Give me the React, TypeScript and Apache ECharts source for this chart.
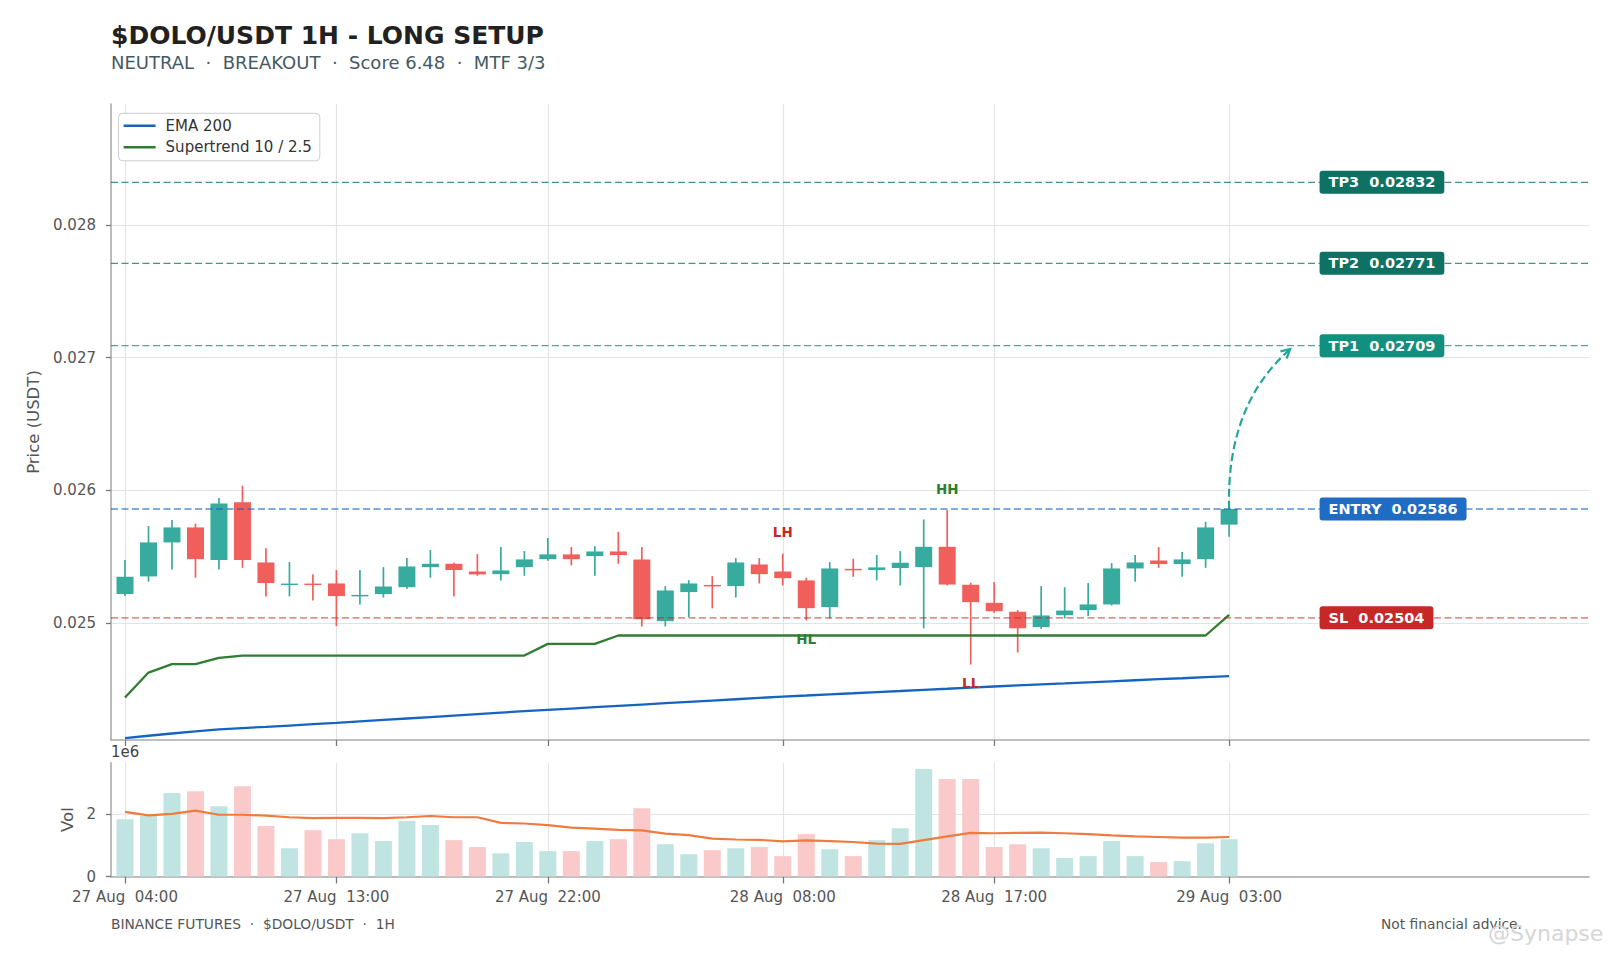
import React, { useEffect, useRef } from "react";
import * as echarts from "echarts";

// ---------- data ----------
const OPEN = [
  0.025219, 0.025352, 0.025608, 0.025721, 0.025475, 0.02591, 0.025457, 0.025294, 0.025298, 0.025299,
  0.025209, 0.025219, 0.025271, 0.025422, 0.025447, 0.025389, 0.025369, 0.025422, 0.025482, 0.025518,
  0.025505, 0.02554, 0.02548, 0.025015, 0.025234, 0.025288, 0.025279, 0.025442, 0.025389, 0.025322,
  0.025121, 0.025409, 0.0254, 0.025415, 0.025422, 0.025575, 0.025289, 0.025153, 0.025085, 0.02497,
  0.02506, 0.025098, 0.025141, 0.025412, 0.025472, 0.025445, 0.025482, 0.025742,
];
const CLOSE = [
  0.025349, 0.025608, 0.025721, 0.025482, 0.025902, 0.025475, 0.025302, 0.025298, 0.025294, 0.025204,
  0.025213, 0.025276, 0.025427, 0.025447, 0.0254, 0.025367, 0.025397, 0.02548, 0.025518, 0.025482,
  0.02554, 0.025513, 0.02503, 0.025246, 0.025299, 0.025284, 0.025457, 0.025369, 0.025339, 0.025113,
  0.025412, 0.025405, 0.02542, 0.025455, 0.025575, 0.025291, 0.025158, 0.02509, 0.024962, 0.025058,
  0.025095, 0.025141, 0.025412, 0.025457, 0.025445, 0.02548, 0.025721, 0.02586,
];
const LOW = [
  0.025204, 0.025312, 0.025405, 0.025342, 0.025405, 0.025417, 0.025201, 0.025201, 0.025171, 0.024977,
  0.025141, 0.025193, 0.025259, 0.025342, 0.025201, 0.025357, 0.025322, 0.025357, 0.02547, 0.025435,
  0.025357, 0.025447, 0.024975, 0.024975, 0.025045, 0.025111, 0.025193, 0.025299, 0.025284, 0.02502,
  0.025035, 0.025349, 0.025322, 0.025284, 0.02496, 0.025284, 0.024688, 0.025078, 0.024779, 0.024957,
  0.025035, 0.025053, 0.025133, 0.025312, 0.025417, 0.025349, 0.025417, 0.02565,
];
const HIGH = [
  0.025475, 0.025731, 0.025776, 0.025749, 0.025942, 0.026035, 0.025565, 0.02546, 0.025369, 0.0254,
  0.0254, 0.025422, 0.02549, 0.02555, 0.025455, 0.02552, 0.025573, 0.025543, 0.025641, 0.025573,
  0.02558, 0.025688, 0.025573, 0.025279, 0.025324, 0.025354, 0.02549, 0.02549, 0.025523, 0.025342,
  0.02546, 0.025485, 0.025513, 0.025543, 0.025781, 0.025852, 0.025304, 0.025309, 0.025098, 0.025279,
  0.025271, 0.025302, 0.025452, 0.025513, 0.025573, 0.025535, 0.025764, 0.02586,
];
const VOLUME_M = [
  1.83, 1.93, 2.66, 2.72, 2.24, 2.88, 1.61, 0.9, 1.48, 1.19,
  1.38, 1.13, 1.77, 1.64, 1.16, 0.94, 0.74, 1.1, 0.81, 0.81,
  1.13, 1.19, 2.18, 1.03, 0.71, 0.84, 0.9, 0.94, 0.65, 1.35,
  0.87, 0.65, 1.16, 1.54, 3.43, 3.11, 3.11, 0.94, 1.03, 0.9,
  0.59, 0.65, 1.13, 0.65, 0.46, 0.49, 1.06, 1.19,
];
const VOLUME_MA_M = [
  2.06, 1.95, 2.0, 2.1, 1.97, 1.97, 1.94, 1.89, 1.86, 1.87,
  1.87, 1.86, 1.89, 1.93, 1.89, 1.89, 1.71, 1.69, 1.64, 1.56,
  1.53, 1.49, 1.47, 1.37, 1.32, 1.21, 1.18, 1.17, 1.12, 1.15,
  1.13, 1.1, 1.05, 1.04, 1.16, 1.28, 1.39, 1.38, 1.39, 1.4,
  1.38, 1.35, 1.31, 1.28, 1.26, 1.24, 1.24, 1.26,
];
const EMA200 = [
  0.024134, 0.024152, 0.024169, 0.024185, 0.0242, 0.02421, 0.024219, 0.024229, 0.024239, 0.024249,
  0.02426, 0.024271, 0.024282, 0.024293, 0.024304, 0.024315, 0.024326, 0.024337, 0.024347, 0.024357,
  0.024367, 0.024377, 0.024387, 0.024397, 0.024407, 0.024417, 0.024427, 0.024437, 0.024447, 0.024455,
  0.024464, 0.024472, 0.024481, 0.024489, 0.024498, 0.024506, 0.024515, 0.024523, 0.024531, 0.024539,
  0.024546, 0.024554, 0.024562, 0.02457, 0.024578, 0.024585, 0.024593, 0.024601,
];
const SUPERTREND = [
  0.02444, 0.024628, 0.024691, 0.024691, 0.024739, 0.024756, 0.024756, 0.024756, 0.024756, 0.024756,
  0.024756, 0.024756, 0.024756, 0.024756, 0.024756, 0.024756, 0.024756, 0.024756, 0.024844, 0.024844,
  0.024844, 0.024907, 0.024907, 0.024907, 0.024907, 0.024907, 0.024907, 0.024907, 0.024907, 0.024907,
  0.024907, 0.024907, 0.024907, 0.024907, 0.024907, 0.024907, 0.024907, 0.024907, 0.024907, 0.024907,
  0.024907, 0.024907, 0.024907, 0.024907, 0.024907, 0.024907, 0.024907, 0.025063,
];
const X_TICK_INDEX = [0, 9, 18, 28, 37, 47];
const X_TICK_LABELS = ["27 Aug  04:00", "27 Aug  13:00", "27 Aug  22:00", "28 Aug  08:00", "28 Aug  17:00", "29 Aug  03:00"];
const Y_TICKS = [0.025, 0.026, 0.027, 0.028];
const VOL_TICKS = [0, 2e6];

const LEVEL_NAMES = ["TP3", "TP2", "TP1", "ENTRY", "SL"];
const LEVEL_VALUES = [0.02832, 0.02771, 0.02709, 0.02586, 0.02504];

const MARKER_INDEX = [28, 35, 29, 36];
const MARKER_TEXT = ["LH", "HH", "HL", "LL"];
const MARKER_ABOVE = [true, true, false, false];

// ---------- styles ----------
const FONT = '"DejaVu Sans", sans-serif';
const UP = "#38ab9f";
const DOWN = "#f05f5b";
const UP_VOL = "#bfe4e1";
const DOWN_VOL = "#facaca";
const LEVEL_LINE = ["#00695c", "#00695c", "#00897b", "#1565c0", "#c62828"];
const LEVEL_BG = ["#0d7163", "#0d7163", "#11907f", "#1f6cc4", "#c62828"];
const X_MIN = -0.596;
const X_MAX = 62.32;
const LABEL_X = 50.83;
const ARROW_TO_X = 49.6;
const GRID_COLOR = "#e3e3e3";
const SPINE = "#aaaaaa";

export default function App() {
  const ref = useRef<HTMLDivElement>(null);

  useEffect(() => {
    if (!ref.current) return;
    const chart = echarts.init(ref.current, null, { renderer: "svg" });

    const candleData = OPEN.map((o, i) => [i, o, CLOSE[i], LOW[i], HIGH[i]]);
    const entry = LEVEL_VALUES[LEVEL_NAMES.indexOf("ENTRY")];
    const tp1 = LEVEL_VALUES[LEVEL_NAMES.indexOf("TP1")];

    const option: any = {
      animation: false,
      backgroundColor: "#ffffff",
      textStyle: { fontFamily: FONT },
      grid: [
        { left: 111, top: 104, width: 1478, height: 636, outerBoundsMode: "none" },
        { left: 111, top: 762.7, width: 1478, height: 113.8, outerBoundsMode: "none" },
      ],
      legend: {
        left: 118.6,
        top: 113.3,
        orient: "vertical",
        icon: "rect",
        itemWidth: 32,
        itemHeight: 2.5,
        itemGap: 6.5,
        padding: [5, 8, 6, 5],
        backgroundColor: "#ffffff",
        borderColor: "#cccccc",
        borderWidth: 1,
        borderRadius: 4,
        textStyle: { fontFamily: FONT, fontSize: 15, color: "#333333", lineHeight: 15, padding: [0, 0, 0, 5] },
        data: ["EMA 200", "Supertrend 10 / 2.5"],
      },
      xAxis: [
        {
          type: "value",
          gridIndex: 0,
          min: X_MIN,
          max: X_MAX,
          axisLine: { show: true, onZero: false, lineStyle: { color: SPINE, width: 1.6 } },
          axisTick: { show: true, length: 6, customValues: X_TICK_INDEX, lineStyle: { color: "#777", width: 1.3 } },
          axisLabel: { show: false, customValues: X_TICK_INDEX },
          splitLine: { show: true, lineStyle: { color: GRID_COLOR, width: 1.2 } },
        },
        {
          type: "value",
          gridIndex: 1,
          min: X_MIN,
          max: X_MAX,
          axisLine: { show: true, onZero: false, lineStyle: { color: SPINE, width: 1.6 } },
          axisTick: { show: true, length: 7, customValues: X_TICK_INDEX, lineStyle: { color: "#777", width: 1.3 } },
          axisLabel: {
            show: true,
            customValues: X_TICK_INDEX,
            margin: 13,
            fontFamily: FONT,
            fontSize: 15,
            color: "#555555",
            formatter: (v: number) => {
              const k = X_TICK_INDEX.indexOf(Math.round(v));
              return k >= 0 ? X_TICK_LABELS[k] : "";
            },
          },
          splitLine: { show: true, lineStyle: { color: GRID_COLOR, width: 1.2 } },
        },
      ],
      yAxis: [
        {
          type: "value",
          gridIndex: 0,
          min: 0.02412,
          max: 0.02891,
          name: "Price (USDT)",
          nameLocation: "middle",
          nameGap: 69,
          nameTextStyle: { fontFamily: FONT, fontSize: 16.5, color: "#555555" },
          axisLine: { show: true, onZero: false, lineStyle: { color: SPINE, width: 1.6 } },
          axisTick: { show: true, length: 5, customValues: Y_TICKS, lineStyle: { color: "#777", width: 1.3 } },
          axisLabel: {
            customValues: Y_TICKS,
            margin: 15,
            fontFamily: FONT,
            fontSize: 15,
            color: "#555555",
            formatter: (v: number) => v.toFixed(3),
          },
          splitLine: { show: true, lineStyle: { color: GRID_COLOR, width: 1.2 } },
        },
        {
          type: "value",
          gridIndex: 1,
          min: 0,
          max: 3.63e6,
          name: "Vol",
          nameLocation: "middle",
          nameGap: 35,
          nameTextStyle: { fontFamily: FONT, fontSize: 16.5, color: "#555555" },
          axisLine: { show: true, onZero: false, lineStyle: { color: SPINE, width: 1.6 } },
          axisTick: { show: true, length: 5, customValues: VOL_TICKS, lineStyle: { color: "#777", width: 1.3 } },
          axisLabel: {
            customValues: VOL_TICKS,
            margin: 15,
            fontFamily: FONT,
            fontSize: 15,
            color: "#555555",
            formatter: (v: number) => String(Math.round(v / 1e6)),
          },
          splitLine: { show: true, lineStyle: { color: GRID_COLOR, width: 1.2 } },
        },
      ],
      graphic: [
        {
          type: "text",
          left: 111,
          top: 23.3,
          style: { text: "$DOLO/USDT 1H - LONG SETUP", font: `bold 25px ${FONT}`, fill: "#212121" },
        },
        {
          type: "text",
          left: 111,
          top: 53.5,
          style: { text: "NEUTRAL  ·  BREAKOUT  ·  Score 6.48  ·  MTF 3/3", font: `18px ${FONT}`, fill: "#455a64" },
        },
        {
          type: "text",
          left: 111,
          top: 744,
          style: { text: "1e6", font: `15px ${FONT}`, fill: "#444444" },
        },
        {
          type: "text",
          left: 111,
          top: 917,
          style: { text: "BINANCE FUTURES  ·  $DOLO/USDT  ·  1H", font: `13.8px ${FONT}`, fill: "#555555" },
        },
        {
          type: "text",
          left: 1381,
          top: 917,
          style: { text: "Not financial advice.", font: `13.8px ${FONT}`, fill: "#555555" },
        },
        {
          type: "text",
          left: 1488,
          top: 922,
          style: { text: "@Synapse", font: `22px ${FONT}`, fill: "#d6d6d6" },
        },
      ],
      series: [
        {
          type: "custom",
          name: "candles",
          xAxisIndex: 0,
          yAxisIndex: 0,
          z: 3,
          dimensions: ["x", "open", "close", "low", "high"],
          encode: { x: 0, y: [1, 2, 3, 4] },
          data: candleData,
          renderItem: (params: any, api: any) => {
            const x = api.value(0);
            const o = api.value(1);
            const c = api.value(2);
            const l = api.value(3);
            const h = api.value(4);
            const pO = api.coord([x, o]);
            const pC = api.coord([x, c]);
            const pL = api.coord([x, l]);
            const pH = api.coord([x, h]);
            const w = 17;
            const color = c >= o ? UP : DOWN;
            const top = Math.min(pO[1], pC[1]);
            const bh = Math.max(Math.abs(pO[1] - pC[1]), 1.5);
            return {
              type: "group",
              children: [
                {
                  type: "line",
                  shape: { x1: pH[0], y1: pH[1], x2: pL[0], y2: pL[1] },
                  style: { stroke: color, lineWidth: 1.7 },
                },
                {
                  type: "rect",
                  shape: { x: pO[0] - w / 2, y: top, width: w, height: bh },
                  style: { fill: color },
                },
              ],
            };
          },
        },
        {
          type: "custom",
          name: "levels",
          xAxisIndex: 0,
          yAxisIndex: 0,
          z: 5,
          silent: true,
          encode: { x: 0, y: 1 },
          data: LEVEL_VALUES.map((v) => [X_MIN, v]),
          renderItem: (params: any, api: any) => {
            const i = params.dataIndex;
            const a = api.coord([X_MIN, api.value(1)]);
            const b = api.coord([X_MAX, api.value(1)]);
            return {
              type: "line",
              shape: { x1: a[0], y1: a[1], x2: b[0], y2: b[1] },
              style: {
                stroke: LEVEL_LINE[i],
                lineWidth: 1.4,
                lineDash: [7, 3.5],
                opacity: 0.72,
                fill: "none",
              },
            };
          },
        },
        {
          type: "line",
          name: "EMA 200",
          xAxisIndex: 0,
          yAxisIndex: 0,
          z: 4,
          color: "#1565c0",
          showSymbol: false,
          symbol: "none",
          data: EMA200.map((v, i) => [i, v]),
          lineStyle: { color: "#1565c0", width: 2.3 },
        },
        {
          type: "line",
          name: "Supertrend 10 / 2.5",
          xAxisIndex: 0,
          yAxisIndex: 0,
          z: 4,
          color: "#2e7d32",
          showSymbol: false,
          symbol: "none",
          data: SUPERTREND.map((v, i) => [i, v]),
          lineStyle: { color: "#2e7d32", width: 2.3 },
        },
        {
          type: "scatter",
          name: "structure",
          xAxisIndex: 0,
          yAxisIndex: 0,
          z: 6,
          symbol: "circle",
          symbolSize: 1,
          itemStyle: { color: "rgba(0,0,0,0)", opacity: 1 },
          data: MARKER_INDEX.map((idx, k) => ({
            value: [idx, MARKER_ABOVE[k] ? HIGH[idx] : LOW[idx]],
            label: {
              show: true,
              position: MARKER_ABOVE[k] ? "top" : "bottom",
              distance: MARKER_ABOVE[k] ? 14 : 11,
              formatter: MARKER_TEXT[k],
              color: MARKER_TEXT[k].startsWith("H") ? "#2e7d32" : "#c62828",
              fontFamily: FONT,
              fontWeight: "bold",
              fontSize: 13.5,
              opacity: 1,
            },
          })),
        },
        {
          type: "scatter",
          name: "levelLabels",
          xAxisIndex: 0,
          yAxisIndex: 0,
          z: 7,
          symbol: "circle",
          symbolSize: 1,
          itemStyle: { color: "rgba(0,0,0,0)", opacity: 1 },
          data: LEVEL_VALUES.map((v, i) => ({
            value: [LABEL_X, v],
            label: {
              show: true,
              position: "right",
              distance: 0,
              formatter: `${LEVEL_NAMES[i]}  ${v.toFixed(5)}`,
              color: "#ffffff",
              fontFamily: FONT,
              fontWeight: "bold",
              fontSize: 14.5,
              lineHeight: 16,
              padding: [4, 9, 3, 9],
              borderRadius: 3,
              backgroundColor: LEVEL_BG[i],
              opacity: 1,
            },
          })),
        },
        {
          type: "custom",
          name: "arrow",
          xAxisIndex: 0,
          yAxisIndex: 0,
          z: 8,
          data: [[OPEN.length - 1, entry]],
          renderItem: (params: any, api: any) => {
            const s = api.coord([api.value(0), api.value(1)]);
            const e = api.coord([ARROW_TO_X, tp1]);
            e[1] += 3.5;
            const cp = [s[0] - 3, e[1] + 0.35 * (s[1] - e[1])];
            const dx = e[0] - cp[0];
            const dy = e[1] - cp[1];
            const len = Math.sqrt(dx * dx + dy * dy);
            const ux = dx / len;
            const uy = dy / len;
            const L = 10;
            const a = (28 * Math.PI) / 180;
            const rot = (ang: number) => [
              e[0] - L * (ux * Math.cos(ang) - uy * Math.sin(ang)),
              e[1] - L * (ux * Math.sin(ang) + uy * Math.cos(ang)),
            ];
            return {
              type: "group",
              children: [
                {
                  type: "bezierCurve",
                  shape: { x1: s[0], y1: s[1], x2: e[0], y2: e[1], cpx1: cp[0], cpy1: cp[1] },
                  style: { stroke: "#26a69a", lineWidth: 2.2, lineDash: [8, 4], fill: "none" },
                },
                {
                  type: "polyline",
                  shape: { points: [rot(a), e, rot(-a)] },
                  style: { stroke: "#26a69a", lineWidth: 2.2, fill: "none" },
                },
              ],
            };
          },
        },
        {
          type: "bar",
          name: "volume",
          xAxisIndex: 1,
          yAxisIndex: 1,
          barWidth: 17,
          data: VOLUME_M.map((v, i) => ({
            value: [i, v * 1e6],
            itemStyle: { color: CLOSE[i] >= OPEN[i] ? UP_VOL : DOWN_VOL },
          })),
        },
        {
          type: "line",
          name: "volMA",
          xAxisIndex: 1,
          yAxisIndex: 1,
          z: 4,
          showSymbol: false,
          symbol: "none",
          data: VOLUME_MA_M.map((v, i) => [i, v * 1e6]),
          lineStyle: { color: "#ef7b3e", width: 2.2 },
        },
      ],
    };

    chart.setOption(option);
    return () => chart.dispose();
  }, []);

  return (
    <div
      ref={ref}
      style={{ position: "fixed", left: 0, top: 0, width: 1614, height: 957, background: "#fff" }}
    />
  );
}
